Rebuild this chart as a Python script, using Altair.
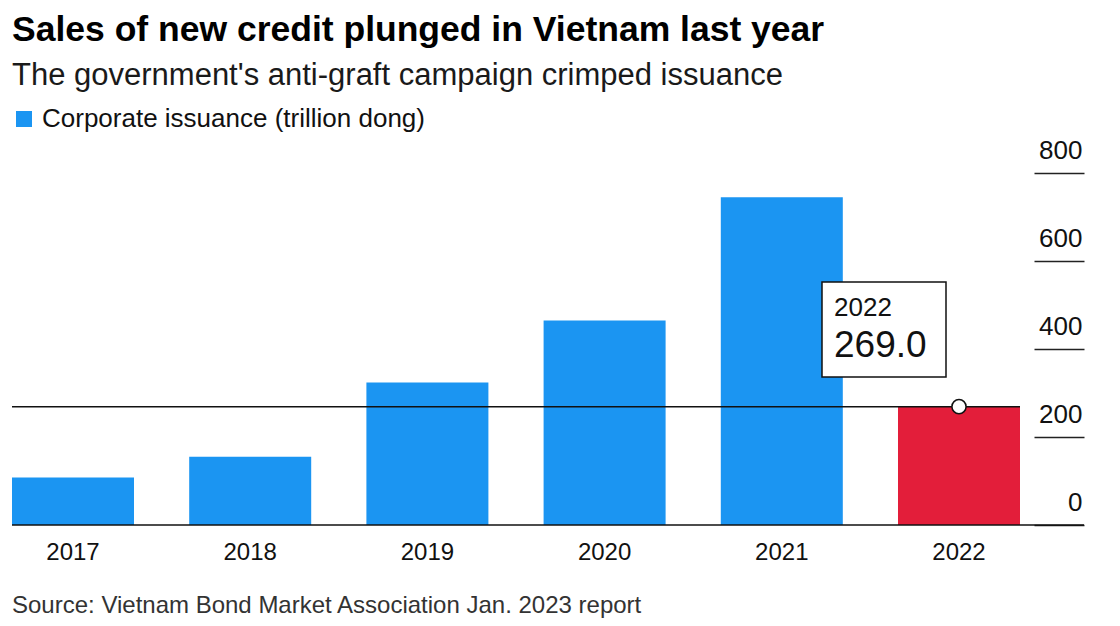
import altair as alt
import pandas as pd

# ---- data ----
years = ["2017", "2018", "2019", "2020", "2021", "2022"]
issuance = [108, 155, 324, 465, 745, 269.0]
y_ticks = [0, 200, 400, 600, 800]

title_text = "Sales of new credit plunged in Vietnam last year"
subtitle_text = "The government's anti-graft campaign crimped issuance"
legend_text = "Corporate issuance (trillion dong)"
source_text = "Source: Vietnam Bond Market Association Jan. 2023 report"
highlight_year = "2022"
highlight_value = 269.0

BLUE = "#1B95F2"
RED = "#E31E3A"
FONT = "Liberation Sans"

df = pd.DataFrame({"year": years, "value": issuance})
hl = pd.DataFrame({"year": [highlight_year], "value": [highlight_value]})

W, H = 1022, 352

x_scale = alt.Scale(domain=years, paddingInner=0.3115, paddingOuter=0.0395, align=0)
y_scale = alt.Scale(domain=[0, 800], nice=False)

bars = alt.Chart(df).mark_bar().encode(
    x=alt.X("year:N", scale=x_scale, sort=years,
            axis=alt.Axis(title=None, domain=False, ticks=False, labelAngle=0,
                          labelFont=FONT, labelFontSize=24, labelColor="#111",
                          labelPadding=15)),
    y=alt.Y("value:Q", scale=y_scale,
            axis=alt.Axis(title=None, orient="right", values=y_ticks, domain=False,
                          grid=False, ticks=True, tickSize=50, tickColor="#222",
                          tickWidth=1.5, labelFont=FONT, labelFontSize=26,
                          labelColor="#111", labelAlign="right",
                          labelBaseline="alphabetic", labelPadding=-2,
                          labelOffset=-15, labelOverlap=False)),
    color=alt.condition(alt.datum.year == highlight_year, alt.value(RED), alt.value(BLUE)),
)

baseline = alt.Chart(pd.DataFrame({"v": [0]})).mark_rule(color="#111", strokeWidth=1.5).encode(
    y=alt.Y("v:Q", scale=y_scale), x=alt.value(0), x2=alt.value(1072))

hline = alt.Chart(hl).mark_rule(color="#111", strokeWidth=1.5).encode(
    y=alt.Y("value:Q", scale=y_scale), x=alt.value(0), x2=alt.value(1008))

dot = alt.Chart(hl).mark_point(filled=True, fill="white", stroke="#111",
                               strokeWidth=1.5, size=200, opacity=1).encode(
    x=alt.X("year:N", scale=x_scale), y=alt.Y("value:Q", scale=y_scale))

box = alt.Chart(hl).mark_rect(fill="white", stroke="#111", strokeWidth=1.5).encode(
    x=alt.value(810), x2=alt.value(934), y=alt.value(109), y2=alt.value(204))

box_year = alt.Chart(hl).mark_text(align="left", baseline="alphabetic", font=FONT,
                                   fontSize=26, color="#111").encode(
    text="year:N", x=alt.value(822), y=alt.value(143))

box_val = alt.Chart(hl).mark_text(align="left", baseline="alphabetic", font=FONT,
                                  fontSize=37, color="#111").encode(
    text=alt.Text("value:Q", format=".1f"), x=alt.value(822), y=alt.value(184))


def label(txt, x, y, size, weight="normal", color="#111"):
    return alt.Chart(pd.DataFrame({"t": [txt]})).mark_text(
        align="left", baseline="alphabetic", font=FONT, fontSize=size,
        fontWeight=weight, color=color).encode(
        text="t:N", x=alt.value(x), y=alt.value(y))


title = label(title_text, 0, -132, 35.5, "bold", "#000")
subtitle = label(subtitle_text, 0, -88, 31, "normal", "#1a1a1a")
legend_sq = alt.Chart(pd.DataFrame({"t": [legend_text]})).mark_square(
    size=256, color=BLUE, opacity=1).encode(x=alt.value(12), y=alt.value(-54))
legend_lbl = label(legend_text, 30, -46, 26, "normal", "#111")
source = label(source_text, 0, 440, 24, "normal", "#333")

chart = alt.layer(
    bars, hline, baseline, dot, box, box_year, box_val,
    title, subtitle, legend_sq, legend_lbl, source,
).properties(
    width=W, height=H,
    padding={"left": 12, "top": 173, "right": 86, "bottom": 101},
    autosize=alt.AutoSizeParams(type="none"),
    background="white",
).configure_view(strokeWidth=0)

chart.save("out.html", embed_options={"renderer": "svg", "actions": False})
